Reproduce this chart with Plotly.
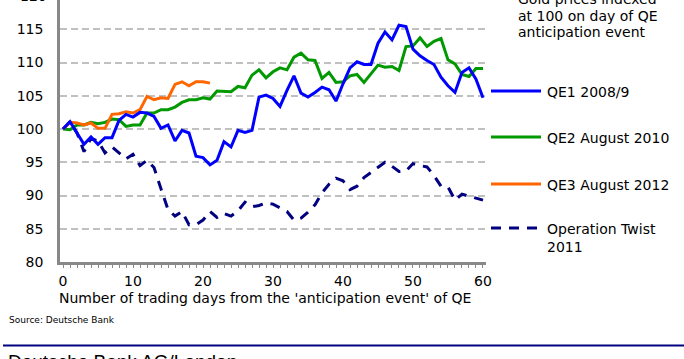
import plotly.graph_objects as go

days = list(range(61))
days_qe3 = list(range(22))

qe1 = [100.0, 101.1, 99.4, 97.7, 98.8, 97.7, 98.7, 98.7, 101.3, 102.2,
       101.8, 102.5, 102.4, 101.9, 100.1, 100.6, 98.2, 99.8, 99.4, 95.9,
       95.7, 94.6, 95.3, 98.1, 97.3, 99.8, 99.5, 99.8, 104.8, 105.1,
       104.6, 103.4, 105.8, 108.0, 105.4, 104.8, 105.5, 106.3, 105.9, 104.2,
       106.8, 109.2, 110.1, 109.7, 109.7, 112.9, 114.6, 113.4, 115.6, 115.4,
       112.0, 111.0, 110.3, 109.7, 107.8, 106.5, 105.5, 108.5, 109.2, 107.5,
       104.7]

qe2 = [100.0, 99.9, 100.6, 100.6, 101.0, 100.8, 101.0, 101.5, 101.4, 100.4,
       100.6, 100.6, 102.4, 102.4, 102.9, 102.9, 103.3, 104.0, 104.4, 104.4,
       104.7, 104.5, 105.7, 105.7, 105.6, 106.4, 106.2, 108.1, 108.9, 107.7,
       108.6, 109.2, 108.9, 110.8, 111.4, 110.4, 110.3, 107.6, 108.5, 107.0,
       107.1, 108.0, 108.2, 107.0, 108.3, 109.6, 109.3, 109.4, 108.8, 112.4,
       112.5, 113.7, 112.4, 113.2, 113.6, 110.4, 109.8, 108.2, 107.9, 109.1,
       109.1]

qe3 = [100.0, 101.0, 100.9, 100.6, 100.9, 100.1, 100.1, 102.2, 102.3, 102.6,
       102.4, 102.9, 104.9, 104.4, 104.7, 104.6, 106.7, 107.1, 106.5, 107.1,
       107.1, 106.9]

twist = [100.0, 101.1, 99.4, 96.6, 98.6, 98.2, 96.4, 97.3, 96.4, 95.5,
         96.2, 94.5, 95.3, 94.2, 91.0, 87.9, 86.9, 87.6, 85.6, 85.6,
         86.3, 87.6, 86.7, 87.3, 86.9, 87.7, 89.0, 88.3, 88.5, 88.9,
         88.7, 88.2, 87.6, 86.3, 86.6, 87.5, 88.6, 90.4, 91.7, 92.6,
         92.2, 90.9, 91.4, 92.7, 93.5, 94.3, 95.0, 94.4, 93.6, 93.7,
         94.8, 94.5, 94.3, 93.0, 91.4, 91.3, 89.3, 90.2, 89.9, 89.7,
         89.3]

series_names = ["QE1 2008/9", "QE2 August 2010", "QE3 August 2012", "Operation Twist<br>2011"]
colors = ["#0000ff", "#009900", "#ff6600", "#000080"]

x_ticks = [0, 10, 20, 30, 40, 50, 60]
y_ticks = [80, 85, 90, 95, 100, 105, 110, 115]

title_lines = ["Gold prices indexed", "at 100 on day of QE", "anticipation event"]
x_title = "Number of trading days from the 'anticipation event' of QE"
source_text = "Source: Deutsche Bank"
footer_text = "Deutsche Bank AG/London"

W, H = 684, 359
L, R, T, B = 60, 486, 0, 262
FONT = "DejaVu Sans"


def px(x):
    return (x - L) / (R - L)


def py(y):
    return (B - y) / (B - T)


fig = go.Figure()
fig.add_trace(go.Scatter(x=days, y=twist, mode="lines", name=series_names[3],
                         line=dict(color=colors[3], width=3, dash="10px,8px"), showlegend=False))
fig.add_trace(go.Scatter(x=days, y=qe2, mode="lines", name=series_names[1],
                         line=dict(color=colors[1], width=3), showlegend=False))
fig.add_trace(go.Scatter(x=days_qe3, y=qe3, mode="lines", name=series_names[2],
                         line=dict(color=colors[2], width=3), showlegend=False))
fig.add_trace(go.Scatter(x=days, y=qe1, mode="lines", name=series_names[0],
                         line=dict(color=colors[0], width=3), showlegend=False))

shapes = []
annotations = []

# Legend (manual)
leg_y = [91, 137, 184, 228]
for name, col, yy, i in zip(series_names, colors, leg_y, range(4)):
    shapes.append(dict(type="line", xref="paper", yref="paper",
                       x0=px(491), x1=px(541), y0=py(yy), y1=py(yy),
                       line=dict(color=col, width=3, dash="10px,8px" if i == 3 else "solid")))
    annotations.append(dict(text=name, xref="paper", yref="paper", x=px(545),
                            y=py(yy - 9), xanchor="left", yanchor="top", showarrow=False,
                            align="left", font=dict(family=FONT, size=14, color="black")))

# Title block
for i, t in enumerate(title_lines):
    annotations.append(dict(text=t, xref="paper", yref="paper", x=px(516),
                            y=py(-1 + 16.5 * i), xanchor="left", yanchor="middle",
                            showarrow=False, font=dict(family=FONT, size=14, color="black")))

# 120 tick label (partly off the top)
annotations.append(dict(text="120", xref="paper", yref="paper", x=px(49), y=py(-4),
                        xanchor="right", yanchor="middle", showarrow=False,
                        font=dict(family=FONT, size=14, color="black")))

annotations.append(dict(text=x_title, xref="paper", yref="paper", x=px(265), y=py(298),
                        xanchor="center", yanchor="middle", showarrow=False,
                        font=dict(family=FONT, size=14, color="black")))
annotations.append(dict(text=source_text, xref="paper", yref="paper", x=px(7), y=py(320),
                        xanchor="left", yanchor="middle", showarrow=False,
                        font=dict(family=FONT, size=9, color="black")))
annotations.append(dict(text=footer_text, xref="paper", yref="paper", x=px(6), y=py(361),
                        xanchor="left", yanchor="middle", showarrow=False,
                        font=dict(family="Liberation Sans", size=19, color="black")))

shapes.append(dict(type="line", xref="paper", yref="paper", x0=px(3), x1=px(684),
                   y0=py(345.5), y1=py(345.5), line=dict(color="#000080", width=2)))

fig.update_layout(
    width=W, height=H,
    margin=dict(l=L, r=W - R, t=T, b=H - B, pad=0, autoexpand=False),
    paper_bgcolor="white", plot_bgcolor="white",
    shapes=shapes, annotations=annotations,
    showlegend=False,
    font=dict(family=FONT, size=14, color="black"),
)
fig.update_xaxes(range=[-0.43, 60.43], tickvals=x_ticks, ticktext=[str(v) for v in x_ticks],
                 showgrid=False, zeroline=False, showline=True, linecolor="#888888", linewidth=2.5,
                 ticks="outside", ticklen=3, tickcolor="#888888", tickwidth=1,
                 minor=dict(dtick=1, tick0=0, ticks="outside", ticklen=3, tickcolor="#888888", tickwidth=1),
                 tickfont=dict(family=FONT, size=14, color="black"), ticklabelstandoff=1,
                 automargin=False)
fig.update_yaxes(range=[80, 119.4], tickvals=y_ticks, ticktext=[str(v) for v in y_ticks],
                 showgrid=True, gridcolor="#c0c0c0", gridwidth=1.5, griddash="7px,4px",
                 zeroline=False, showline=True, linecolor="#888888", linewidth=2.5,
                 ticks="", tickfont=dict(family=FONT, size=14, color="black"), ticklabelstandoff=11,
                 automargin=False)

fig.write_html("out.html", config={"displayModeBar": False},
               post_script="document.body.style.margin='0';document.body.style.overflow='hidden';")
